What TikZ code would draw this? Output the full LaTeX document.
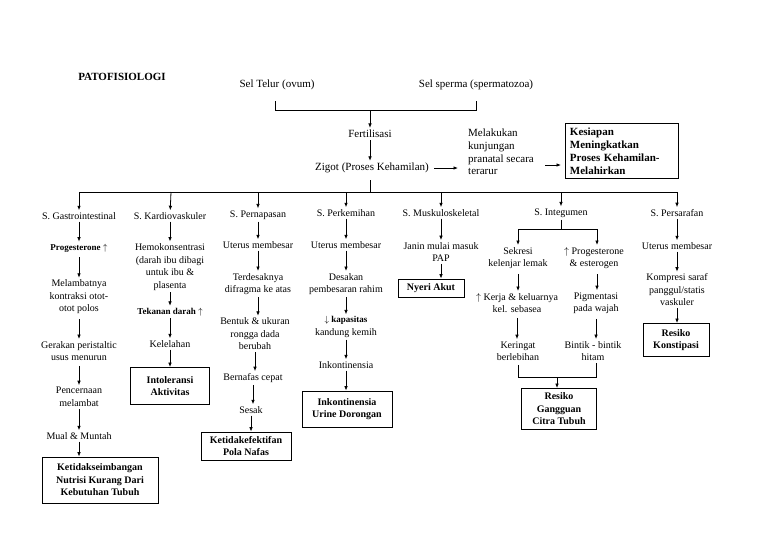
\documentclass[tikz,border=0pt]{standalone}
\usepackage{fontspec}
\setmainfont{Liberation Serif}
\usetikzlibrary{arrows.meta}
\newcommand\spf{\fontsize{9}{11}\selectfont\bfseries}
\tikzset{
  t/.style={font=\fontsize{10}{12.5}\selectfont, align=center, inner sep=2pt},
  tt/.style={font=\fontsize{11}{12.8}\selectfont, align=center, inner sep=2pt},
  bx/.style={draw, line width=0.9pt, align=center, inner xsep=4pt, inner ysep=3pt,
             font=\fontsize{10}{12.5}\selectfont\bfseries},
  ar/.style={-{Latex[length=4.5pt,width=3.6pt]}, line width=0.8pt},
  ln/.style={line width=0.8pt}
}
\begin{document}
\begin{tikzpicture}[x=1pt,y=-1pt]
\fill[white] (0,0) rectangle (768,544);
\useasboundingbox (0,0) rectangle (768,544);

% top part
\node[tt, font=\fontsize{11}{12.8}\selectfont\bfseries] (title) at (122,77) {PATOFISIOLOGI};
\node[tt] (telur) at (277,85) {Sel Telur (ovum)};
\node[tt] (sperma) at (476,85) {Sel sperma (spermatozoa)};
\coordinate (blt) at (275,101);
\coordinate (bl) at (275,110);
\coordinate (br) at (476,110);
\coordinate (brt) at (476,101);
\coordinate (bm) at (370,110);
\draw[ln] (blt) -- (bl) -- (br) -- (brt);
\node[tt] (fert) at (370,134) {Fertilisasi};
\draw[ar] (bm) -- (fert);
\node[tt] (zig) at (372,168) {Zigot (Proses Kehamilan)};
\draw[ar] (fert) -- (fert |- zig.north);
\node[tt, align=left, anchor=west] (mel) at (466,152) {Melakukan\\kunjungan\\pranatal secara\\terarur};
\draw[ar, shorten <=3pt, shorten >=8pt] (zig.east) -- (zig.east -| mel.west);
\node[bx, align=left, anchor=north west, text width=104pt, minimum height=55pt, inner xsep=4.5pt,
      font=\fontsize{11}{13}\selectfont\bfseries] (kes) at (565,123)
  {Kesiapan\\Meningkatkan\\Proses Kehamilan-\\Melahirkan};
\coordinate (a1) at (545,165);
\draw[ar, shorten >=4pt] (a1) -- (a1 -| kes.west);

% main branch line
\coordinate (top) at (370,192);
\draw[ln, shorten <=5pt] (zig.south -| top) -- (top);
\coordinate (cg) at (79,192);
\coordinate (ck) at (171,192);
\coordinate (cp) at (258,192);
\coordinate (cm) at (346,192);
\coordinate (cs) at (441,192);
\coordinate (ci) at (561,192);
\coordinate (cr) at (677,192);
\draw[ln] (cg) -- (cr);

% Gastrointestinal
\node[t] (g1) at (79,216) {S. Gastrointestinal};
\node[t, font=\spf] (g2) at (79,248) {Progesterone $\uparrow$};
\node[t] (g3) at (79,297) {Melambatnya\\kontraksi otot-\\otot polos};
\node[t] (g4) at (79,351) {Gerakan peristaltic\\usus menurun};
\node[t] (g5) at (79,397) {Pencernaan\\melambat};
\node[t] (g6) at (79,436) {Mual \& Muntah};
\node[bx, minimum width=116pt, minimum height=46pt] (g7) at (100,480) {Ketidakseimbangan\\Nutrisi Kurang Dari\\Kebutuhan Tubuh};
\draw[ar] (cg) -- (g1);
\draw[ar] (g1) -- (g2);
\draw[ar, shorten <=3pt] (g2) -- (g3);
\draw[ar, shorten <=3pt] (g3) -- (g4);
\draw[ar, shorten <=3pt] (g4) -- (g5);
\draw[ar] (g5) -- (g6);
\draw[ar] (g6) -- (g6 |- g7.north);

% Kardiovaskuler
\node[t] (k1) at (170,216) {S. Kardiovaskuler};
\node[t] (k2) at (170,267) {Hemokonsentrasi\\(darah ibu dibagi\\untuk ibu \&\\plasenta};
\node[t, font=\spf] (k3) at (170,312) {Tekanan darah $\uparrow$};
\node[t] (k4) at (170,344) {Kelelahan};
\node[bx, minimum width=79pt, minimum height=37pt] (k5) at (170,386) {Intoleransi\\Aktivitas};
\draw[ar] (ck) -- (k1);
\draw[ar] (k1) -- (k2);
\draw[ar] (k2) -- (k3);
\draw[ar] (k3) -- (k4);
\draw[ar] (k4) -- (k4 |- k5.north);

% Pernapasan
\node[t] (p1) at (258,215) {S. Pernapasan};
\node[t] (p2) at (258,245) {Uterus membesar};
\node[t] (p3) at (258,284) {Terdesaknya\\difragma ke atas};
\node[t] (p4) at (255,334) {Bentuk \& ukuran\\rongga dada\\berubah};
\node[t] (p5) at (253,378) {Bernafas cepat};
\node[t] (p6) at (251,410) {Sesak};
\node[bx, minimum width=90pt, minimum height=28pt] (p7) at (246,446) {Ketidakefektifan\\Pola Nafas};
\draw[ar] (cp) -- (p1);
\draw[ar] (p1) -- (p1 |- p2.north);
\draw[ar] (p2) -- (p2 |- p3.north);
\draw[ar] (p3) -- (p3 |- p4.north);
\draw[ar] (p4) -- (p4 |- p5.north);
\draw[ar] (p5) -- (p5 |- p6.north);
\draw[ar] (p6) -- (p6 |- p7.north);

% Perkemihan
\node[t] (m1) at (346,213) {S. Perkemihan};
\node[t] (m2) at (346,245) {Uterus membesar};
\node[t] (m3) at (346,284) {Desakan\\pembesaran rahim};
\node[t] (m4) at (346,327) {{\spf $\downarrow$ kapasitas}\\kandung kemih};
\node[t] (m5) at (346,365) {Inkontinensia};
\node[bx, minimum width=90pt, minimum height=36pt] (m6) at (347,409) {Inkontinensia\\Urine Dorongan};
\draw[ar] (cm) -- (m1);
\draw[ar] (m1) -- (m2);
\draw[ar] (m2) -- (m3);
\draw[ar] (m3) -- (m4);
\draw[ar] (m4) -- (m5);
\draw[ar] (m5) -- (m5 |- m6.north);

% Muskuloskeletal
\node[t] (s1) at (441,213) {S. Muskuloskeletal};
\node[t] (s2) at (441,252) {Janin mulai masuk\\PAP};
\node[bx, minimum width=66pt, minimum height=18pt, inner ysep=2pt] (s3) at (431,288) {Nyeri Akut};
\draw[ar] (cs) -- (s1);
\draw[ar] (s1) -- (s2);
\draw[ar] (s2) -- (s2 |- s3.north);

% Integumen
\node[t] (i1) at (561,213) {S. Integumen};
\coordinate (ij) at (561,229);
\coordinate (il) at (518,229);
\coordinate (ir) at (597,229);
\node[t] (i2) at (518,258) {Sekresi\\kelenjar lemak};
\node[t] (i3) at (594,258) {$\uparrow$ Progesterone\\\& esterogen};
\node[t] (i4) at (517,303) {$\uparrow$ Kerja \& keluarnya\\kel. sebasea};
\node[t] (i5) at (596,303) {Pigmentasi\\pada wajah};
\node[t] (i6) at (518,351) {Keringat\\berlebihan};
\node[t] (i7) at (593,351) {Bintik - bintik\\hitam};
\coordinate (bl2) at (518,377);
\coordinate (br2) at (596,377);
\coordinate (bm2) at (557,377);
\node[bx, minimum width=75pt, minimum height=41pt] (i8) at (559,409) {Resiko\\Gangguan\\Citra Tubuh};
\draw[ar] (ci) -- (i1);
\draw[ln] (i1) -- (ij);
\draw[ln] (il) -- (ir);
\draw[ar] (il) -- (il |- i2.north);
\draw[ar] (ir) -- (ir |- i3.north);
\draw[ar, shorten <=3pt] (i2) -- (i2 |- i4.north);
\draw[ar, shorten <=3pt] (i3.south -| ir) -- (ir |- i5.north);
\draw[ar, shorten <=3pt] (i4) -- (i4 |- i6.north);
\draw[ar, shorten <=3pt] (i5) -- (i5 |- i7.north);
\draw[ln, shorten <=2pt] (i6) -- (i6 |- bl2) -- (br2) -- (br2 |- i7.south);
\draw[ar] (bm2) -- (bm2 |- i8.north);

% Persarafan
\node[t] (r1) at (677,213) {S. Persarafan};
\node[t] (r2) at (677,246) {Uterus membesar};
\node[t] (r3) at (677,290) {Kompresi saraf\\panggul/statis\\vaskuler};
\node[bx, minimum width=66pt, minimum height=33pt] (r4) at (676,340) {Resiko\\Konstipasi};
\draw[ar] (cr) -- (r1);
\draw[ar] (r1) -- (r2);
\draw[ar] (r2) -- (r3);
\draw[ar] (r3) -- (r3 |- r4.north);
\end{tikzpicture}
\end{document}
